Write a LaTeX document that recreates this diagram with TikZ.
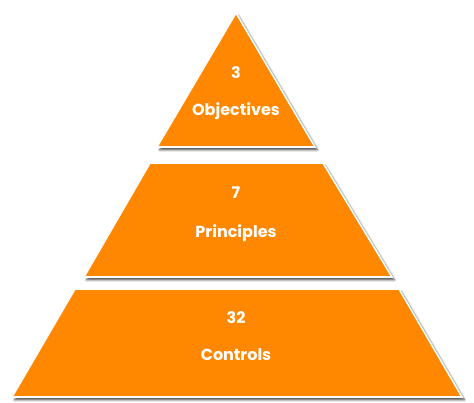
\documentclass[tikz,border=0pt]{standalone}
\usepackage{fontspec}
\setmainfont{Poppins}
\usetikzlibrary{shadows.blur}
\definecolor{pyrorange}{RGB}{255,136,0}
\tikzset{
  tier/.style={fill=pyrorange, draw=white, line width=1.6pt, line join=miter,
    blur shadow={shadow xshift=2.5pt, shadow yshift=-3pt, shadow blur steps=5, shadow blur radius=2pt, shadow opacity=70}},
  lbl/.style={text=white, font=\fontsize{16}{19}\selectfont\bfseries, inner sep=0pt, anchor=center}
}
\begin{document}
\begin{tikzpicture}[x=1pt,y=1pt]
\useasboundingbox (0,0) rectangle (474,403);
\path[tier] (236,390) -- (315,256) -- (157,256) -- cycle;
\path[tier] (150,240) -- (323,240) -- (392,126) -- (84,126) -- cycle;
\path[tier] (75,114) -- (399,114) -- (462,6) -- (12,6) -- cycle;
\node[lbl] (n3) at (236,330) {3};
\node[lbl] (obj) at (236,292) {Objectives};
\node[lbl] (n7) at (236,210) {7};
\node[lbl] (pri) at (236,170) {Principles};
\node[lbl] (n32) at (236,85) {32};
\node[lbl] (con) at (236,48) {Controls};
\end{tikzpicture}
\end{document}
